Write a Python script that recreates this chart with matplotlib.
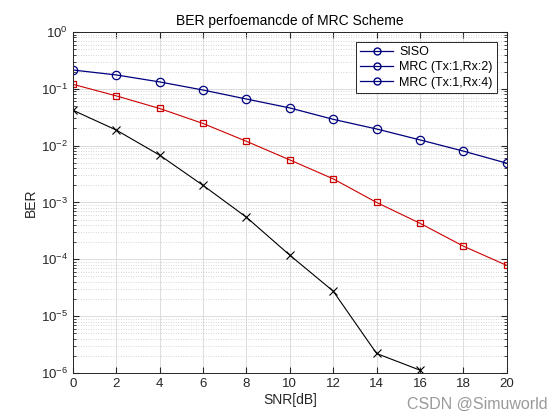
import matplotlib
matplotlib.use("Agg")
import matplotlib.pyplot as plt
from matplotlib.lines import Line2D
from matplotlib.ticker import LogLocator, NullFormatter

plt.rcParams['font.family'] = ['Liberation Sans', 'DejaVu Sans']

snr_db = [0, 2, 4, 6, 8, 10, 12, 14, 16, 18, 20]
ber_siso = [0.214, 0.175, 0.132, 0.095, 0.066, 0.046, 0.029, 0.0196, 0.0126, 0.0080, 0.0049]
ber_mrc2 = [0.12, 0.075, 0.045, 0.0245, 0.0119, 0.0056, 0.0026, 0.0010, 4.3e-4, 1.7e-4, 7.8e-5]
snr_mrc4 = [0, 2, 4, 6, 8, 10, 12, 14, 16]
ber_mrc4 = [0.042, 0.0188, 0.0068, 0.0020, 5.5e-4, 1.18e-4, 2.75e-5, 2.2e-6, 1.12e-6]
legend_labels = ["SISO", "MRC (Tx:1,Rx:2)", "MRC (Tx:1,Rx:4)"]

fig = plt.figure(figsize=(5.6, 4.2), dpi=100)
ax = fig.add_axes([0.13, 0.112, 0.775, 0.812])

navy = "#00007f"
ax.semilogy(snr_db, ber_siso, color=navy, marker="o", mfc="none", ms=6, lw=0.9, mew=0.9)
ax.semilogy(snr_db, ber_mrc2, color="#cc0000", marker="s", mfc="none", ms=5, lw=0.8, mew=0.9)
ax.semilogy(snr_mrc4, ber_mrc4, color="black", marker="x", ms=6, lw=0.8, mew=0.8)

ax.set_xlim(0, 20)
ax.set_ylim(1e-6, 1)
ax.set_xticks(range(0, 21, 2))
ax.yaxis.set_minor_locator(LogLocator(base=10, subs=range(2, 10), numticks=20))
ax.yaxis.set_minor_formatter(NullFormatter())

ax.grid(True, which="major", color="#dcdcdc", lw=0.7)
ax.grid(True, which="minor", axis="y", color="#c8c8c8", lw=0.6, ls=(0, (1, 2)))
ax.tick_params(which="both", direction="in", top=True, right=True, labelsize=9.5, colors="#262626")
ax.tick_params(which="major", length=4)
ax.tick_params(which="minor", length=2)
for s in ax.spines.values():
    s.set_color("#262626")
    s.set_linewidth(0.7)

ax.set_xlabel("SNR[dB]", fontsize=10, color="#262626", labelpad=2)
ax.set_ylabel("BER", fontsize=10, color="#262626", labelpad=2)
ax.set_title("BER perfoemancde of MRC Scheme", fontsize=10, color="black", pad=5)

# legend handles all drawn the same way, as in the source figure
handles = [Line2D([], [], color=navy, marker="o", mfc="none", ms=5, lw=0.9) for _ in legend_labels]
leg = ax.legend(handles, legend_labels, loc="upper right", fontsize=9, fancybox=False,
                edgecolor="#262626", framealpha=1, borderaxespad=0.8, handlelength=2.6,
                labelspacing=0.25, borderpad=0.35, handletextpad=0.5)
leg.get_frame().set_linewidth(0.7)

fig.text(0.978, 0.02, "CSDN @Simuworld", ha="right", va="bottom", fontsize=11.5, color="#9a9a9a")

fig.savefig("out.png", dpi=100)
